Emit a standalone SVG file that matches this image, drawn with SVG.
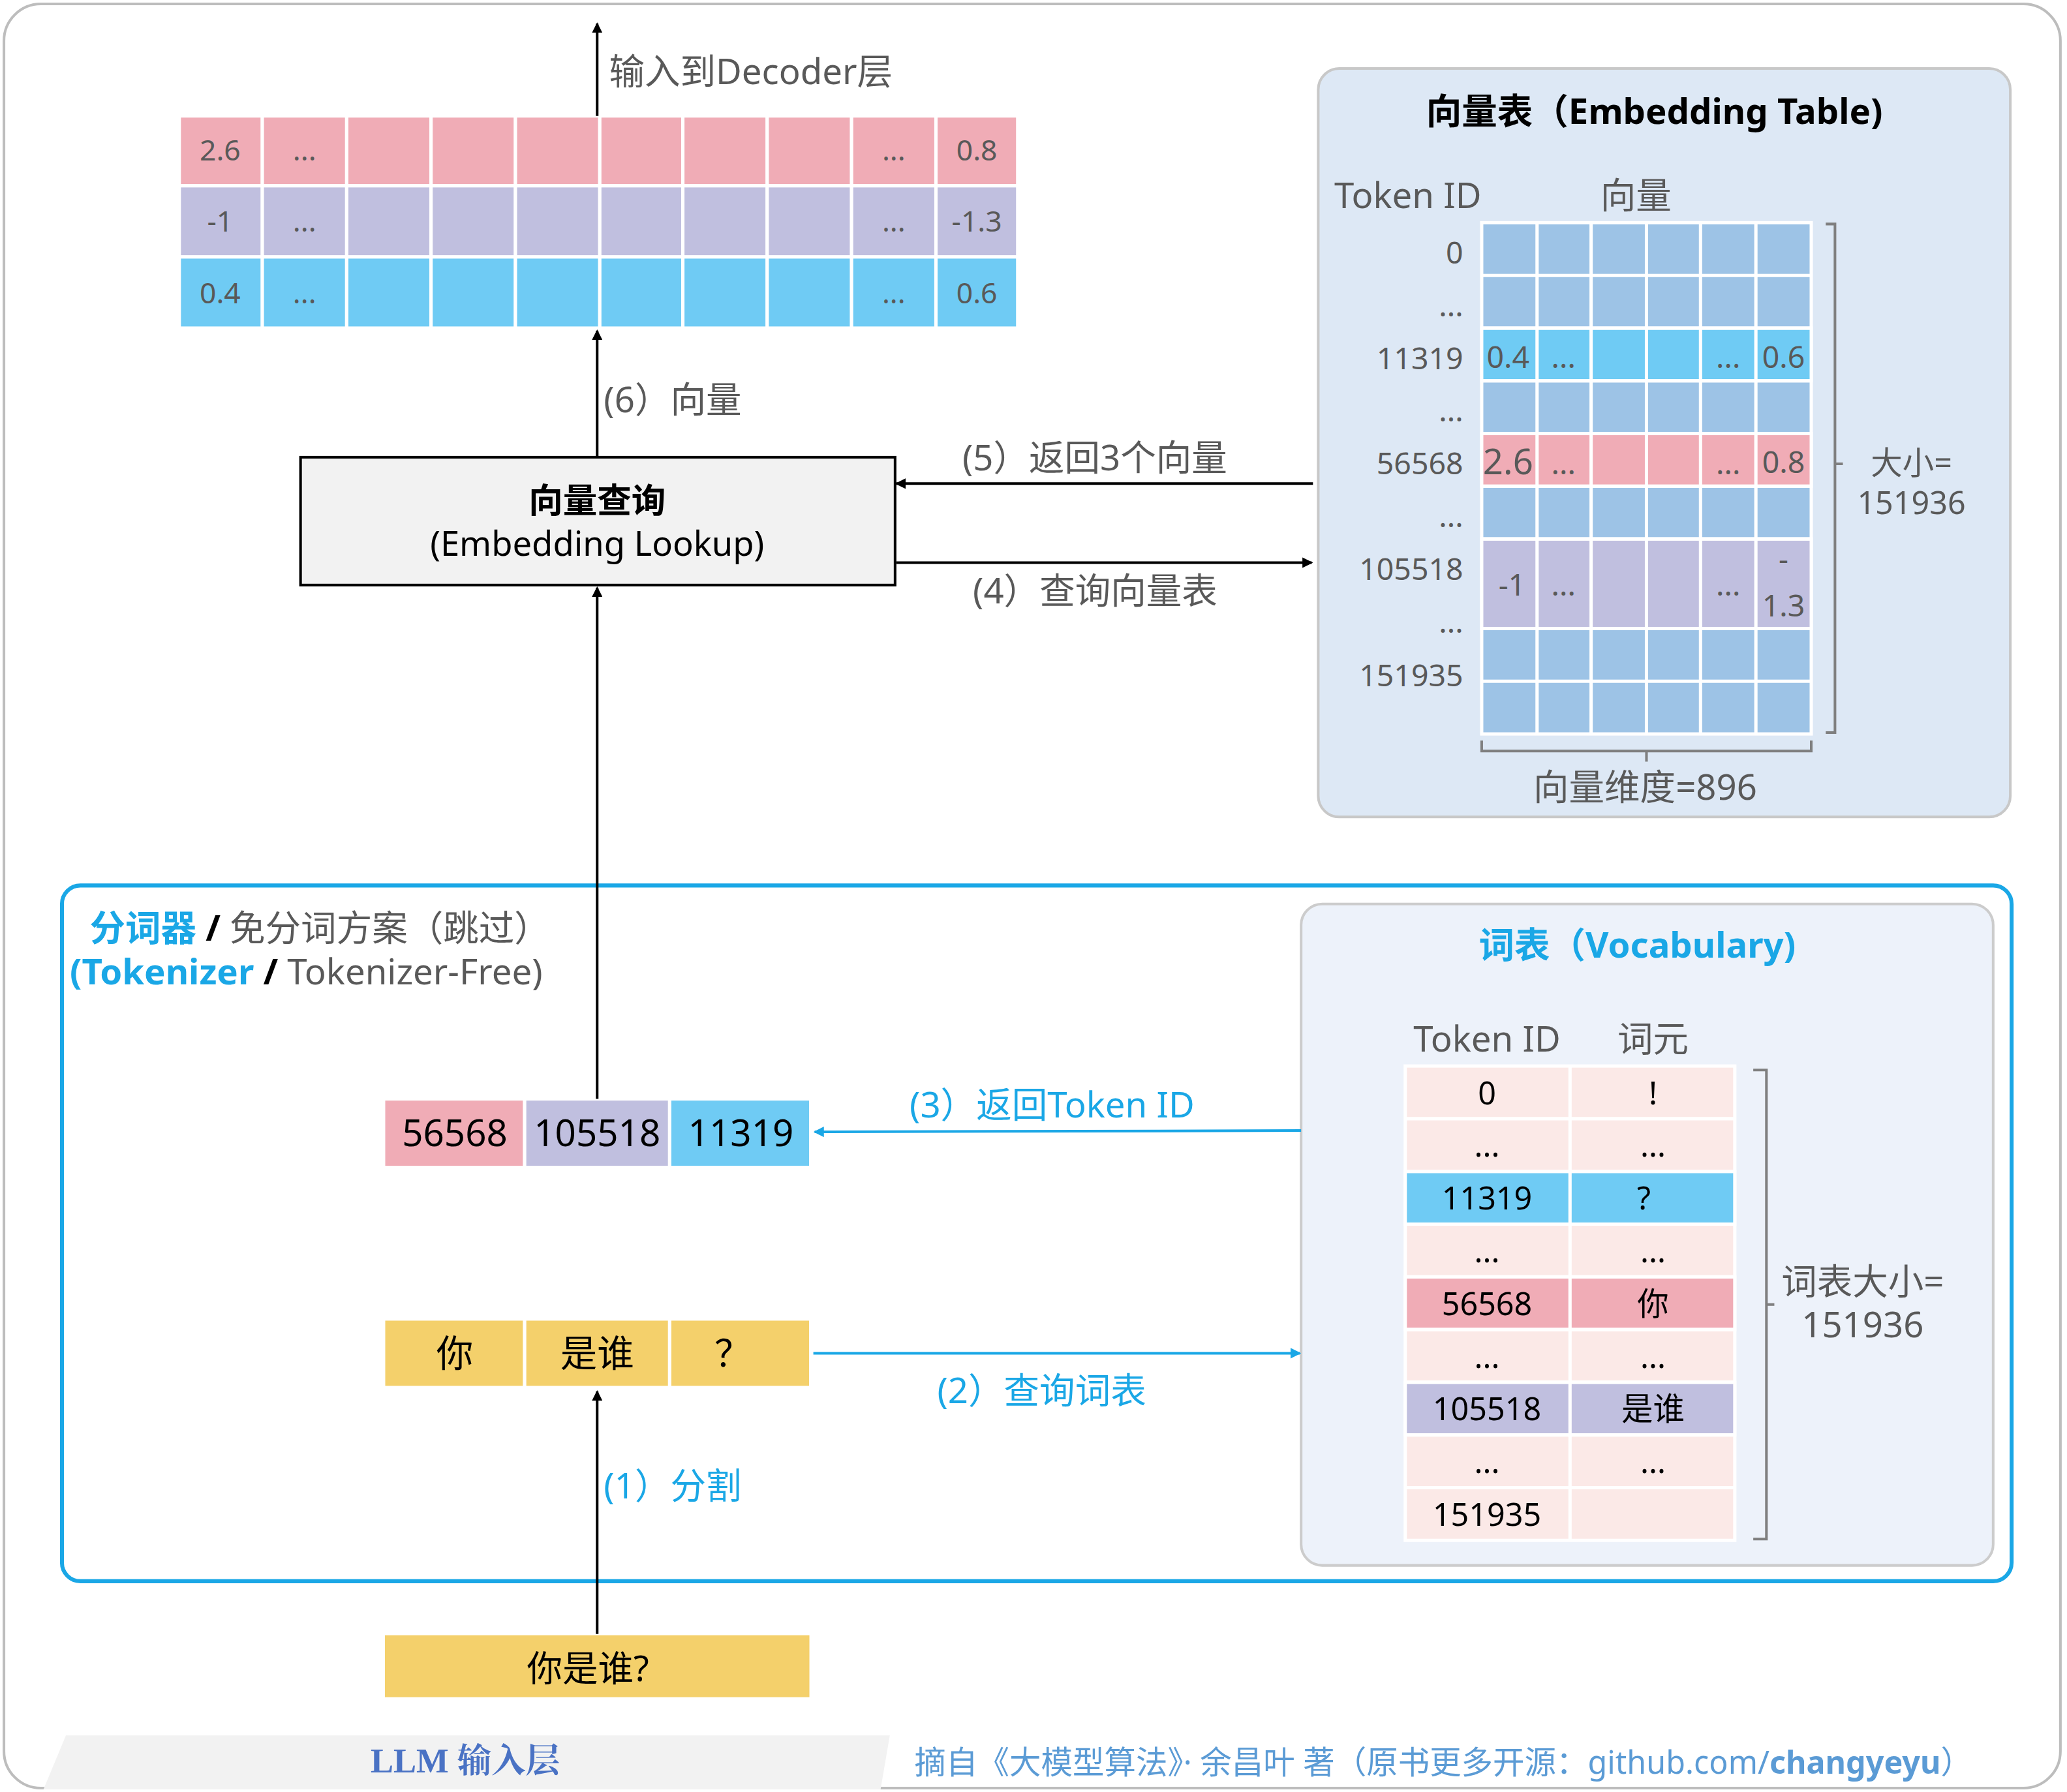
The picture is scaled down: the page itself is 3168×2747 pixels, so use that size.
<svg xmlns="http://www.w3.org/2000/svg" width="3168" height="2747" viewBox="0 0 3168 2747">
<defs>
<marker id="ak" markerWidth="8" markerHeight="8" refX="7" refY="4" orient="auto" markerUnits="userSpaceOnUse"><path d="M0,0 L8,4 L0,8 z" fill="#000"/></marker>
<marker id="ab" markerWidth="8" markerHeight="8" refX="7" refY="4" orient="auto" markerUnits="userSpaceOnUse"><path d="M0,0 L8,4 L0,8 z" fill="#1aa7e6"/></marker>
<marker id="ak2" markerWidth="16" markerHeight="16" refX="14" refY="8" orient="auto" markerUnits="userSpaceOnUse"><path d="M0,0 L16,8 L0,16 z" fill="#000"/></marker>
<marker id="ab2" markerWidth="16" markerHeight="16" refX="14" refY="8" orient="auto" markerUnits="userSpaceOnUse"><path d="M0,0 L16,8 L0,16 z" fill="#1aa7e6"/></marker>
</defs>
<style>
text{font-family:"Noto Sans","Noto Sans CJK SC",sans-serif;fill:#595959}
.c{text-anchor:middle}.r{text-anchor:end}
.b{font-weight:bold}
.k{fill:#000}.bl{fill:#1aa7e6}
.pk{fill:#f0acb6}.lv{fill:#c0bfdf}.cy{fill:#6fcbf4}.tb{fill:#9dc3e6}.ye{fill:#f4d06b}.vo{fill:#fbe9e7}
.cell{stroke:#fff;stroke-width:2.5}
</style>
<g transform="scale(2.0204,2.0199)">
<rect x="3" y="3" width="1560" height="1354" rx="28" fill="#fff" stroke="#bdbdbd" stroke-width="2"/>
<g id="footer">
<polygon points="50,1317 675,1317 668,1358 33,1358" fill="#f2f2f2"/>
<text x="353" y="1345" class="c b" style="font-family:'Liberation Serif','Noto Serif CJK SC',serif;fill:#4a72c4" font-size="26">LLM 输入层</text>
<text x="1095" y="1346" class="c" style="fill:#5b9bd5" font-size="24">摘自《大模型算法》· 余昌叶 著（原书更多开源：github.com/<tspan font-weight="bold">changyeyu</tspan>）</text>
</g>
<g id="output-vectors" font-size="22">
<g class="cell">
<rect x="136" y="88" width="63" height="53" class="pk"/><rect x="199" y="88" width="64" height="53" class="pk"/><rect x="263" y="88" width="64" height="53" class="pk"/><rect x="327" y="88" width="64" height="53" class="pk"/><rect x="391" y="88" width="64" height="53" class="pk"/><rect x="455" y="88" width="63" height="53" class="pk"/><rect x="518" y="88" width="64" height="53" class="pk"/><rect x="582" y="88" width="64" height="53" class="pk"/><rect x="646" y="88" width="64" height="53" class="pk"/><rect x="710" y="88" width="62" height="53" class="pk"/>
<rect x="136" y="141" width="63" height="54" class="lv"/><rect x="199" y="141" width="64" height="54" class="lv"/><rect x="263" y="141" width="64" height="54" class="lv"/><rect x="327" y="141" width="64" height="54" class="lv"/><rect x="391" y="141" width="64" height="54" class="lv"/><rect x="455" y="141" width="63" height="54" class="lv"/><rect x="518" y="141" width="64" height="54" class="lv"/><rect x="582" y="141" width="64" height="54" class="lv"/><rect x="646" y="141" width="64" height="54" class="lv"/><rect x="710" y="141" width="62" height="54" class="lv"/>
<rect x="136" y="195" width="63" height="54" class="cy"/><rect x="199" y="195" width="64" height="54" class="cy"/><rect x="263" y="195" width="64" height="54" class="cy"/><rect x="327" y="195" width="64" height="54" class="cy"/><rect x="391" y="195" width="64" height="54" class="cy"/><rect x="455" y="195" width="63" height="54" class="cy"/><rect x="518" y="195" width="64" height="54" class="cy"/><rect x="582" y="195" width="64" height="54" class="cy"/><rect x="646" y="195" width="64" height="54" class="cy"/><rect x="710" y="195" width="62" height="54" class="cy"/>
</g>
<text x="167" y="122" class="c">2.6</text><text x="231" y="122" class="c">...</text><text x="678" y="122" class="c">...</text><text x="741" y="122" class="c">0.8</text>
<text x="167" y="176" class="c">-1</text><text x="231" y="176" class="c">...</text><text x="678" y="176" class="c">...</text><text x="741" y="176" class="c">-1.3</text>
<text x="167" y="230" class="c">0.4</text><text x="231" y="230" class="c">...</text><text x="678" y="230" class="c">...</text><text x="741" y="230" class="c">0.6</text>
</g>
<g id="lookup">
<rect x="228" y="347" width="451" height="97" fill="#f2f2f2" stroke="#000" stroke-width="2"/>
<text x="453" y="389" class="c b k" font-size="26">向量查询</text>
<text x="453" y="422" class="c k" font-size="26">(Embedding Lookup)</text>
</g>
<g id="embedding-table">
<rect x="1000" y="52" width="525" height="568" rx="16" fill="#dde8f5" stroke="#c8c8c8" stroke-width="2"/>
<text x="1255" y="94" class="c b k" font-size="27">向量表（Embedding Table)</text>
<text x="1068" y="158" class="c" font-size="27">Token ID</text>
<text x="1241" y="158" class="c" font-size="27">向量</text>
<g class="cell">
<rect x="1124" y="169" width="250" height="388" class="tb"/>
<rect x="1124" y="249" width="250" height="40" class="cy"/>
<rect x="1124" y="329" width="250" height="40" class="pk"/>
<rect x="1124" y="409" width="250" height="68" class="lv"/>
</g>
<g stroke="#fff" stroke-width="2.5">
<line x1="1166" y1="169" x2="1166" y2="557"/><line x1="1207" y1="169" x2="1207" y2="557"/><line x1="1249" y1="169" x2="1249" y2="557"/><line x1="1290" y1="169" x2="1290" y2="557"/><line x1="1332" y1="169" x2="1332" y2="557"/>
<line x1="1124" y1="209" x2="1374" y2="209"/><line x1="1124" y1="249" x2="1374" y2="249"/><line x1="1124" y1="289" x2="1374" y2="289"/><line x1="1124" y1="329" x2="1374" y2="329"/><line x1="1124" y1="369" x2="1374" y2="369"/><line x1="1124" y1="409" x2="1374" y2="409"/><line x1="1124" y1="477" x2="1374" y2="477"/><line x1="1124" y1="517" x2="1374" y2="517"/>
</g>
<g font-size="23">
<text x="1110" y="200" class="r">0</text><text x="1110" y="240" class="r">...</text><text x="1110" y="280" class="r">11319</text><text x="1110" y="320" class="r">...</text><text x="1110" y="360" class="r">56568</text><text x="1110" y="400" class="r">...</text><text x="1110" y="440" class="r">105518</text><text x="1110" y="480" class="r">...</text><text x="1110" y="521" class="r">151935</text>
<text x="1144" y="279" class="c">0.4</text><text x="1186" y="279" class="c">...</text><text x="1311" y="279" class="c">...</text><text x="1353" y="279" class="c">0.6</text>
<text x="1144" y="360" class="c" font-size="27">2.6</text><text x="1186" y="360" class="c">...</text><text x="1311" y="360" class="c">...</text><text x="1353" y="359" class="c">0.8</text>
<text x="1147" y="452" class="c">-1</text><text x="1186" y="452" class="c">...</text><text x="1311" y="452" class="c">...</text><text x="1353" y="432" class="c">-</text><text x="1353" y="468" class="c">1.3</text>
<text x="1450" y="360" class="c" font-size="24">大小=</text><text x="1450" y="390" class="c" font-size="24">151936</text>
</g>
<path d="M1385,170 H1392 V556 H1385 M1392,352 H1398" fill="none" stroke="#7f7f7f" stroke-width="2"/>
<path d="M1124,562 V570 H1374 V562 M1249,570 V578" fill="none" stroke="#7f7f7f" stroke-width="2"/>
<text x="1248" y="607" class="c" font-size="27">向量维度=896</text>
</g>
<g id="tokenizer">
<rect x="47" y="672" width="1479" height="528" rx="14" fill="none" stroke="#1aa7e6" stroke-width="3"/>
<text x="68" y="714" font-size="27"><tspan class="b bl">分词器</tspan><tspan class="b k"> / </tspan>免分词方案（跳过）</text>
<text x="53" y="747" font-size="27"><tspan class="b bl">(Tokenizer</tspan><tspan class="b k"> / </tspan>Tokenizer-Free)</text>
</g>
<g id="vocabulary">
<rect x="987" y="686" width="525" height="502" rx="16" fill="#edf2fa" stroke="#cccccc" stroke-width="2"/>
<text x="1242" y="727" class="c b bl" font-size="27">词表（Vocabulary)</text>
<text x="1128" y="798" class="c" font-size="27">Token ID</text>
<text x="1254" y="798" class="c" font-size="27">词元</text>
<g class="cell">
<rect x="1066" y="809" width="250" height="360" class="vo"/>
<rect x="1066" y="889" width="250" height="40" class="cy"/>
<rect x="1066" y="969" width="250" height="40" class="pk"/>
<rect x="1066" y="1049" width="250" height="40" class="lv"/>
</g>
<g stroke="#fff" stroke-width="2.5">
<line x1="1191" y1="809" x2="1191" y2="1169"/>
<line x1="1066" y1="849" x2="1316" y2="849"/><line x1="1066" y1="889" x2="1316" y2="889"/><line x1="1066" y1="929" x2="1316" y2="929"/><line x1="1066" y1="969" x2="1316" y2="969"/><line x1="1066" y1="1009" x2="1316" y2="1009"/><line x1="1066" y1="1049" x2="1316" y2="1049"/><line x1="1066" y1="1089" x2="1316" y2="1089"/><line x1="1066" y1="1129" x2="1316" y2="1129"/>
</g>
<g font-size="24" class="k">
<text x="1128" y="838" class="c k">0</text><text x="1254" y="838" class="c k">!</text>
<text x="1128" y="878" class="c k">...</text><text x="1254" y="878" class="c k">...</text>
<text x="1128" y="918" class="c k">11319</text><text x="1247" y="918" class="c k">?</text>
<text x="1128" y="958" class="c k">...</text><text x="1254" y="958" class="c k">...</text>
<text x="1128" y="998" class="c k">56568</text><text x="1254" y="998" class="c k">你</text>
<text x="1128" y="1038" class="c k">...</text><text x="1254" y="1038" class="c k">...</text>
<text x="1128" y="1078" class="c k">105518</text><text x="1254" y="1078" class="c k">是谁</text>
<text x="1128" y="1118" class="c k">...</text><text x="1254" y="1118" class="c k">...</text>
<text x="1128" y="1158" class="c k">151935</text>
</g>
<path d="M1330,812 H1340 V1168 H1330 M1340,990 H1346" fill="none" stroke="#7f7f7f" stroke-width="2"/>
<text x="1413" y="982" class="c" font-size="27">词表大小=</text>
<text x="1413" y="1015" class="c" font-size="27">151936</text>
</g>
<g id="token-ids" font-size="28">
<g class="cell"><rect x="291" y="834" width="107" height="52" class="pk"/><rect x="398" y="834" width="110" height="52" class="lv"/><rect x="508" y="834" width="107" height="52" class="cy"/></g>
<text x="345" y="870" class="c k">56568</text><text x="453" y="870" class="c k">105518</text><text x="562" y="870" class="c k">11319</text>
</g>
<g id="tokens" font-size="28">
<g class="cell"><rect x="291" y="1001" width="107" height="52" class="ye"/><rect x="398" y="1001" width="110" height="52" class="ye"/><rect x="508" y="1001" width="107" height="52" class="ye"/></g>
<text x="345" y="1037" class="c k">你</text><text x="453" y="1037" class="c k">是谁</text><text x="556" y="1037" class="c k">？</text>
</g>
<g id="input">
<rect x="292" y="1241" width="322" height="47" class="ye"/>
<text x="446" y="1276" class="c k" font-size="27">你是谁?</text>
</g>
<g id="connectors" fill="none" stroke-width="2">
<line x1="453" y1="1240" x2="453" y2="1056" stroke="#000" marker-end="url(#ak)"/>
<line x1="453" y1="834" x2="453" y2="446" stroke="#000" marker-end="url(#ak)"/>
<line x1="453" y1="347" x2="453" y2="251" stroke="#000" marker-end="url(#ak)"/>
<line x1="453" y1="88" x2="453" y2="18" stroke="#000" marker-end="url(#ak)"/>
<line x1="996" y1="367" x2="680" y2="367" stroke="#000" marker-end="url(#ak)"/>
<line x1="680" y1="427" x2="995" y2="427" stroke="#000" marker-end="url(#ak)"/>
<line x1="987" y1="858" x2="618" y2="859" stroke="#1aa7e6" marker-end="url(#ab)"/>
<line x1="617" y1="1027" x2="986" y2="1027" stroke="#1aa7e6" marker-end="url(#ab)"/>
</g>
<g id="labels" font-size="27">
<text x="462" y="64">输入到Decoder层</text>
<text x="458" y="313">(6）向量</text>
<text x="730" y="357">(5）返回3个向量</text>
<text x="738" y="458">(4）查询向量表</text>
<text x="690" y="848" class="bl">(3）返回Token ID</text>
<text x="711" y="1065" class="bl">(2）查询词表</text>
<text x="458" y="1137" class="bl">(1）分割</text>
</g>
</g>
</svg>
